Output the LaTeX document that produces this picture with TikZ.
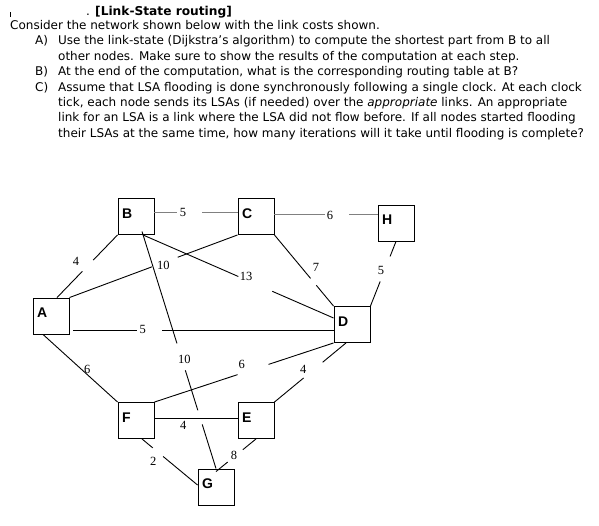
\documentclass[tikz,border=0pt]{standalone}
\usepackage{fontspec}
\setmainfont{DejaVu Sans}
\newfontfamily\costfont{Liberation Serif}
\newfontfamily\boxfont{Liberation Sans}
\usepackage{tikz}
\usetikzlibrary{positioning}

\begin{document}
\begin{tikzpicture}[x=1pt,y=-1pt,
  router/.style={draw,line width=0.9pt,minimum size=36pt,inner xsep=4pt,text width=28pt,align=left,
    text height=7pt,text depth=4pt,font=\boxfont\fontsize{14}{14}\selectfont\bfseries},
  cost/.style={inner sep=0pt,font=\costfont\fontsize{12.5}{12.5}\selectfont},
  link/.style={line width=0.9pt},
  para/.style={anchor=base west,align=left,inner sep=0pt,font=\fontsize{12}{15.4}\selectfont}
]
  \useasboundingbox (0,0) rectangle (599,525);
  % question text (multi-line nodes sit on their last baseline)
  \node[para] (tick) at (9.5,16.5) {\rule{0.8pt}{5pt}};
  \node[para] (dot) at (86,15) {.};
  \node[para,font=\fontsize{12.2}{15}\selectfont\bfseries] (title) at (95,15) {[Link-State routing]};
  \node[para] (intro) at (10,29.3) {Consider the network shown below with the link costs shown.};
  \node[para] (la) at (35,44.7) {A)};
  \node[para] (qa) at (58,60.1) {Use the link-state (Dijkstra's algorithm) to compute the shortest part from B to all\\
    other nodes. Make sure to show the results of the computation at each step.};
  \node[para] (lb) at (35,75.5) {B)};
  \node[para] (qb) at (58,75.5) {At the end of the computation, what is the corresponding routing table at B?};
  \node[para] (lc) at (35,91) {C)};
  \node[para] (qc) at (58,137.2) {Assume that LSA flooding is done synchronously following a single clock. At each clock\\
    tick, each node sends its LSAs (if needed) over the \textit{appropriate} links. An appropriate\\
    link for an LSA is a link where the LSA did not flow before. If all nodes started flooding\\
    their LSAs at the same time, how many iterations will it take until flooding is complete?};

  % routers
  \node[router] (A) at (51,316) {A};
  \node[router] (B) at (136,216.5) {B};
  \node[router] (C) at (256,216.5) {C};
  \node[router] (D) at (352,324.5) {D};
  \node[router] (E) at (256,420.5) {E};
  \node[router] (F) at (136,420.5) {F};
  \node[router] (G) at (216,487) {G};
  \node[router] (H) at (396,223) {H};

  % links
  \draw[link,gray,dash pattern=on 23pt off 25pt on 200pt] ([yshift=4pt]B.east) -- ([yshift=4pt]C.west);
  \draw[link,gray,dash pattern=on 51pt off 24pt on 200pt] ([yshift=2.5pt]C.east) -- ([yshift=9pt]H.west);
  \draw[link,dash pattern=on 35pt off 15.6pt on 200pt] (B.south west) -- ([xshift=6pt]A.north);
  \draw[link,dash pattern=on 88pt off 27.5pt on 300pt] (A.north east) -- (C.south west);
  \draw[link,dash pattern=on 104pt off 37pt on 300pt] ([xshift=7pt]B.south) -- ([yshift=6.5pt]D.west);
  \draw[link,dash pattern=on 56.5pt off 9pt on 200pt] (C.south east) -- (D.north west);
  \draw[link,shorten <=4pt,dash pattern=on 64pt off 25pt on 300pt] ([yshift=-14pt]A.east) -- ([yshift=-5.5pt]D.west);
  \draw[link] ([xshift=-8pt]A.south) -- (F.north west);
  \draw[link,dash pattern=on 87.5pt off 32.7pt on 300pt] (F.north east) -- (D.south west);
  \draw[link,dash pattern=on 37.8pt off 24.7pt on 200pt] (E.north east) -- ([xshift=-6pt]D.south);
  \draw[link] ([yshift=2.5pt]F.east) -- ([yshift=2.5pt]E.west);
  \draw[link,dash pattern=on 14pt off 13.5pt on 200pt] ([xshift=6pt]F.south) -- ([yshift=2pt]G.west);
  \draw[link,dash pattern=on 17pt off 19.5pt on 200pt] (E.south) -- ([yshift=-3pt]G.north);
  \draw[link,dash pattern=on 26.4pt off 27pt on 200pt] (D.north east) -- (H.south);
  \draw[link,dash pattern=on 117.3pt off 28.2pt on 41.9pt off 14.7pt on 200pt] ([xshift=6pt,yshift=3.5pt]B.south) -- (G.north);

  % costs
  \node[cost] (cbc) at (183,212) {5};
  \node[cost] (cch) at (330,215) {6};
  \node[cost] (cab) at (76,261) {4};
  \node[cost] (cac) at (163.3,265.7) {10};
  \node[cost] (cbd) at (246,276.7) {13};
  \node[cost] (ccd) at (316,267.3) {7};
  \node[cost] (cad) at (142.7,329.3) {5};
  \node[cost] (caf) at (87.3,369) {6};
  \node[cost] (cbg) at (184.3,359.3) {10};
  \node[cost] (cfd) at (241.7,364.3) {6};
  \node[cost] (ced) at (303.3,369.3) {4};
  \node[cost] (cfe) at (183.3,425) {4};
  \node[cost] (cfg) at (153.3,461) {2};
  \node[cost] (ceg) at (234,455.3) {8};
  \node[cost] (cdh) at (381,270) {5};
\end{tikzpicture}
\end{document}
